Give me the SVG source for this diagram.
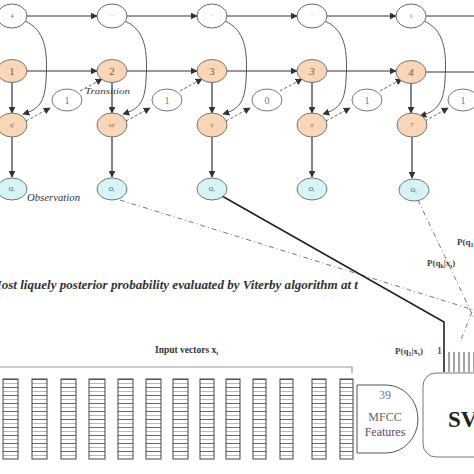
<svg xmlns="http://www.w3.org/2000/svg" width="474" height="474" viewBox="0 0 474 474">
<defs>
<marker id="ah" viewBox="0 0 10 10" refX="9" refY="5" markerWidth="7" markerHeight="7" markerUnits="userSpaceOnUse" orient="auto">
<path d="M0,0 L10,5 L0,10 z" fill="#333"/>
</marker>
<pattern id="rows" x="0" y="379" width="15" height="8" patternUnits="userSpaceOnUse">
<rect width="15" height="8" fill="#fff"/>
<line x1="0" y1="0.5" x2="15" y2="0.5" stroke="#555" stroke-width="0.9"/>
<line x1="0" y1="4.5" x2="15" y2="4.5" stroke="#999" stroke-width="0.7"/>
</pattern>
<style>
.st{fill:#fff;stroke:#555;stroke-width:0.9}
.hid{fill:#f9d6b8;stroke:#666;stroke-width:0.9}
.obs{fill:#d6f3f5;stroke:#666;stroke-width:0.9}
.sm{fill:#fff;stroke:#666;stroke-width:0.9}
.ln{stroke:#333;stroke-width:1.2;fill:none}
.cv{stroke:#444;stroke-width:0.9;fill:none}
.ds{stroke:#555;stroke-width:0.9;fill:none;stroke-dasharray:3,2}
.dd{stroke:#777;stroke-width:1;fill:none;stroke-dasharray:5,3,1,3}
.t{font-family:"Liberation Serif",serif;fill:#7a5c3a;text-anchor:middle}
.ti{font-family:"Liberation Serif",serif;font-style:italic;fill:#333}
.pl{font-family:"Liberation Serif",serif;font-weight:bold;font-size:9px;fill:#444}
.vec{fill:url(#rows);stroke:#444;stroke-width:1}
.mf{font-family:"Liberation Serif",serif;font-size:12px;text-anchor:middle}
</style>
</defs>

<g id="connectors">
<line class="ln" x1="27" y1="16" x2="97" y2="16" marker-end="url(#ah)"/>
<line class="ln" x1="127" y1="16" x2="197" y2="16" marker-end="url(#ah)"/>
<line class="ln" x1="227" y1="16" x2="297" y2="16" marker-end="url(#ah)"/>
<line class="ln" x1="327" y1="16" x2="396" y2="16" marker-end="url(#ah)"/>
<line class="ln" x1="426" y1="16" x2="474" y2="16"/>
<line class="ln" x1="27" y1="71" x2="97" y2="71" marker-end="url(#ah)"/>
<line class="ln" x1="127" y1="71" x2="197" y2="71" marker-end="url(#ah)"/>
<line class="ln" x1="227" y1="71" x2="297" y2="71" marker-end="url(#ah)"/>
<line class="ln" x1="327" y1="71" x2="396" y2="71" marker-end="url(#ah)"/>
<line class="ln" x1="426" y1="72" x2="474" y2="72"/>
<line class="ln" x1="12" y1="82" x2="12" y2="113" marker-end="url(#ah)"/>
<line class="ln" x1="112" y1="82" x2="112" y2="113" marker-end="url(#ah)"/>
<line class="ln" x1="212" y1="82" x2="212" y2="113" marker-end="url(#ah)"/>
<line class="ln" x1="312" y1="82" x2="312" y2="113" marker-end="url(#ah)"/>
<line class="ln" x1="411" y1="83" x2="411" y2="113" marker-end="url(#ah)"/>
<line class="ln" x1="12" y1="137" x2="12" y2="177" marker-end="url(#ah)"/>
<line class="ln" x1="112" y1="137" x2="112" y2="177" marker-end="url(#ah)"/>
<line class="ln" x1="212" y1="137" x2="212" y2="177" marker-end="url(#ah)"/>
<line class="ln" x1="312" y1="137" x2="312" y2="177" marker-end="url(#ah)"/>
<line class="ln" x1="412" y1="137" x2="412" y2="178" marker-end="url(#ah)"/>
<path class="cv" d="M25,21 C45,30 48,50 46,80 C45,105 36,110 23,114" marker-end="url(#ah)"/>
<path class="cv" d="M125,21 C145,30 148,50 146,80 C145,105 136,110 123,114" marker-end="url(#ah)"/>
<path class="cv" d="M225,21 C245,30 248,50 246,80 C245,105 236,110 223,114" marker-end="url(#ah)"/>
<path class="cv" d="M325,21 C345,30 348,50 346,80 C345,105 336,110 323,114" marker-end="url(#ah)"/>
<path class="cv" d="M424,21 C444,30 447,50 445,80 C444,105 435,112 420,116" marker-end="url(#ah)"/>
<line class="ds" x1="26" y1="121" x2="50" y2="108" marker-end="url(#ah)"/>
<line class="ds" x1="126" y1="121" x2="150" y2="108" marker-end="url(#ah)"/>
<line class="ds" x1="226" y1="121" x2="250" y2="108" marker-end="url(#ah)"/>
<line class="ds" x1="326" y1="121" x2="350" y2="108" marker-end="url(#ah)"/>
<line class="ds" x1="425" y1="121" x2="448" y2="108" marker-end="url(#ah)"/>
<line class="ds" x1="80" y1="91" x2="102" y2="79" marker-end="url(#ah)"/>
<line class="ds" x1="180" y1="91" x2="202" y2="79" marker-end="url(#ah)"/>
<line class="ds" x1="280" y1="91" x2="302" y2="79" marker-end="url(#ah)"/>
<line class="ds" x1="380" y1="91" x2="402" y2="79" marker-end="url(#ah)"/>
<line class="dd" x1="120" y1="200" x2="474" y2="310"/>
<line class="dd" x1="418" y1="200" x2="474" y2="318"/>
<line class="dd" x1="472" y1="312" x2="460" y2="342"/>
<polyline points="222,196 444,322 444,372" fill="none" stroke="#222" stroke-width="1.6"/>
<g stroke="#333" stroke-width="0.9">
<line x1="449" y1="352" x2="449" y2="372"/>
<line x1="454" y1="352" x2="454" y2="372"/>
<line x1="459" y1="352" x2="459" y2="372"/>
<line x1="464" y1="352" x2="464" y2="372"/>
<line x1="469" y1="352" x2="469" y2="372"/>
<line x1="474" y1="352" x2="474" y2="372"/>
</g>
<polyline points="0,367 352,367 352,373" fill="none" stroke="#999" stroke-width="1.2"/>
</g>

<g id="top-row">
<g id="s1"><ellipse class="st" cx="12" cy="16" rx="15" ry="12"/><text class="t" x="12" y="18" font-size="6">4</text></g>
<g id="s2"><ellipse class="st" cx="112" cy="16" rx="15" ry="12"/><text class="t" x="112" y="18" font-size="6">··</text></g>
<g id="s3"><ellipse class="st" cx="212" cy="16" rx="15" ry="12"/><text class="t" x="212" y="18" font-size="6">·</text></g>
<g id="s4"><ellipse class="st" cx="312" cy="16" rx="15" ry="12"/><text class="t" x="312" y="18" font-size="6">·</text></g>
<g id="s5"><ellipse class="st" cx="411" cy="16" rx="15" ry="12"/><text class="t" x="411" y="18" font-size="6">1</text></g>
</g>

<g id="hidden-row">
<g id="h1"><ellipse class="hid" cx="12" cy="71" rx="15" ry="11.5"/><text class="t" x="12" y="75" font-size="11">1</text></g>
<g id="h2"><ellipse class="hid" cx="112" cy="71" rx="15" ry="11.5"/><text class="t" x="112" y="75" font-size="11">2</text></g>
<g id="h3"><ellipse class="hid" cx="212" cy="71" rx="15" ry="11.5"/><text class="t" x="212" y="75" font-size="11">3</text></g>
<g id="h4"><ellipse class="hid" cx="312" cy="71" rx="15" ry="11.5"/><text class="t" x="312" y="75" font-size="11" font-style="italic">3</text></g>
<g id="h5"><ellipse class="hid" cx="411" cy="72" rx="15" ry="11.5"/><text class="t" x="411" y="76" font-size="11" font-style="italic">4</text></g>
</g>

<g id="state-row">
<g id="q1"><ellipse class="hid" cx="12" cy="125" rx="15" ry="12"/><text class="t" x="12" y="127" font-size="6">q'</text></g>
<g id="q2"><ellipse class="hid" cx="112" cy="125" rx="15" ry="12"/><text class="t" x="112" y="127" font-size="6">aa'</text></g>
<g id="q3"><ellipse class="hid" cx="212" cy="125" rx="15" ry="12"/><text class="t" x="212" y="127" font-size="6">a'</text></g>
<g id="q4"><ellipse class="hid" cx="312" cy="125" rx="15" ry="12"/><text class="t" x="312" y="127" font-size="6">a'</text></g>
<g id="q5"><ellipse class="hid" cx="412" cy="125" rx="15" ry="12"/><text class="t" x="412" y="127" font-size="6">?'</text></g>
</g>

<g id="trans-row">
<g id="c1"><ellipse class="sm" cx="67" cy="100" rx="15" ry="11"/><text class="t" x="67" y="104" font-size="10" style="fill:#777">1</text></g>
<g id="c2"><ellipse class="sm" cx="167" cy="100" rx="15" ry="11"/><text class="t" x="167" y="104" font-size="10" style="fill:#777">1</text></g>
<g id="c3"><ellipse class="sm" cx="267" cy="100" rx="15" ry="11"/><text class="t" x="267" y="104" font-size="10" style="fill:#777">0</text></g>
<g id="c4"><ellipse class="sm" cx="367" cy="100" rx="15" ry="11"/><text class="t" x="367" y="104" font-size="10" style="fill:#777">1</text></g>
<g id="c5"><ellipse class="sm" cx="463" cy="100" rx="15" ry="11"/><text class="t" x="463" y="104" font-size="10" style="fill:#777">1</text></g>
</g>

<g id="obs-row">
<g id="o1"><ellipse class="obs" cx="12" cy="189" rx="15" ry="11"/><text class="t" x="12" y="191" font-size="6" style="fill:#444">O₁</text></g>
<g id="o2"><ellipse class="obs" cx="112" cy="189" rx="15" ry="11"/><text class="t" x="112" y="191" font-size="6" style="fill:#444">O₁</text></g>
<g id="o3"><ellipse class="obs" cx="212" cy="189" rx="15" ry="11"/><text class="t" x="212" y="191" font-size="6" style="fill:#444">O₂</text></g>
<g id="o4"><ellipse class="obs" cx="312" cy="189" rx="15" ry="11"/><text class="t" x="312" y="191" font-size="6" style="fill:#444">O₁</text></g>
<g id="o5"><ellipse class="obs" cx="414" cy="190" rx="15" ry="11"/><text class="t" x="414" y="192" font-size="6" style="fill:#444">O₁</text></g>
</g>

<text class="ti" x="85" y="94" font-size="9" textLength="45" lengthAdjust="spacingAndGlyphs">Transition</text>
<text class="ti" x="27" y="201" font-size="9.5" textLength="53" lengthAdjust="spacingAndGlyphs">Observation</text>
<text class="ti" x="-10" y="289" font-size="11.5" font-weight="bold" textLength="368" lengthAdjust="spacingAndGlyphs">Most liquely posterior probability evaluated by Viterby algorithm at t</text>

<text class="pl" x="457" y="245">P(q<tspan font-size="6" dy="2">1</tspan><tspan dy="-2">|x</tspan><tspan font-size="6" dy="2">t</tspan><tspan dy="-2">)</tspan></text>
<text class="pl" x="427" y="266">P(q<tspan font-size="6" dy="2">k</tspan><tspan dy="-2">|x</tspan><tspan font-size="6" dy="2">t</tspan><tspan dy="-2">)</tspan></text>
<text class="pl" x="395" y="354">P(q<tspan font-size="6" dy="2">1</tspan><tspan dy="-2">|x</tspan><tspan font-size="6" dy="2">t</tspan><tspan dy="-2">)</tspan></text>
<text x="437" y="354" font-family="Liberation Serif, serif" font-size="10" font-weight="bold" fill="#c0392b">1</text>

<text x="155" y="353" font-family="Liberation Serif, serif" font-size="9.5" font-weight="bold" fill="#333">Input vectors  x<tspan font-size="6" dy="2">t</tspan></text>

<g id="vectors">
<rect class="vec" x="3" y="379" width="15" height="80"/>
<rect class="vec" x="32" y="379" width="15" height="80"/>
<rect class="vec" x="61" y="379" width="15" height="80"/>
<rect class="vec" x="89" y="379" width="16" height="80"/>
<rect class="vec" x="118" y="379" width="15" height="80"/>
<rect class="vec" x="146" y="379" width="15" height="80"/>
<rect class="vec" x="173" y="379" width="15" height="80"/>
<rect class="vec" x="200" y="379" width="14" height="80"/>
<rect class="vec" x="226" y="379" width="14" height="80"/>
<rect class="vec" x="253" y="379" width="13" height="80"/>
<rect class="vec" x="280" y="379" width="13" height="80"/>
<rect class="vec" x="312" y="379" width="14" height="80"/>
<rect class="vec" x="340" y="379" width="13" height="80"/>
</g>

<g id="mfcc">
<path d="M357,385 L386,385 A32,34 0 0 1 386,453 L357,453 Z" fill="#fff" stroke="#555" stroke-width="1"/>
<text class="mf" x="385" y="399" fill="#777">39</text>
<text class="mf" x="385" y="421" fill="#666">MFCC</text>
<text class="mf" x="385" y="436" fill="#5a4a6a" font-size="11">Features</text>
</g>

<g id="svm">
<rect x="423" y="373" width="80" height="84" rx="13" fill="#fff" stroke="#777" stroke-width="1"/>
<text x="448" y="427" font-family="Liberation Serif, serif" font-size="23" font-weight="bold" fill="#222">SVM</text>
</g>
</svg>
